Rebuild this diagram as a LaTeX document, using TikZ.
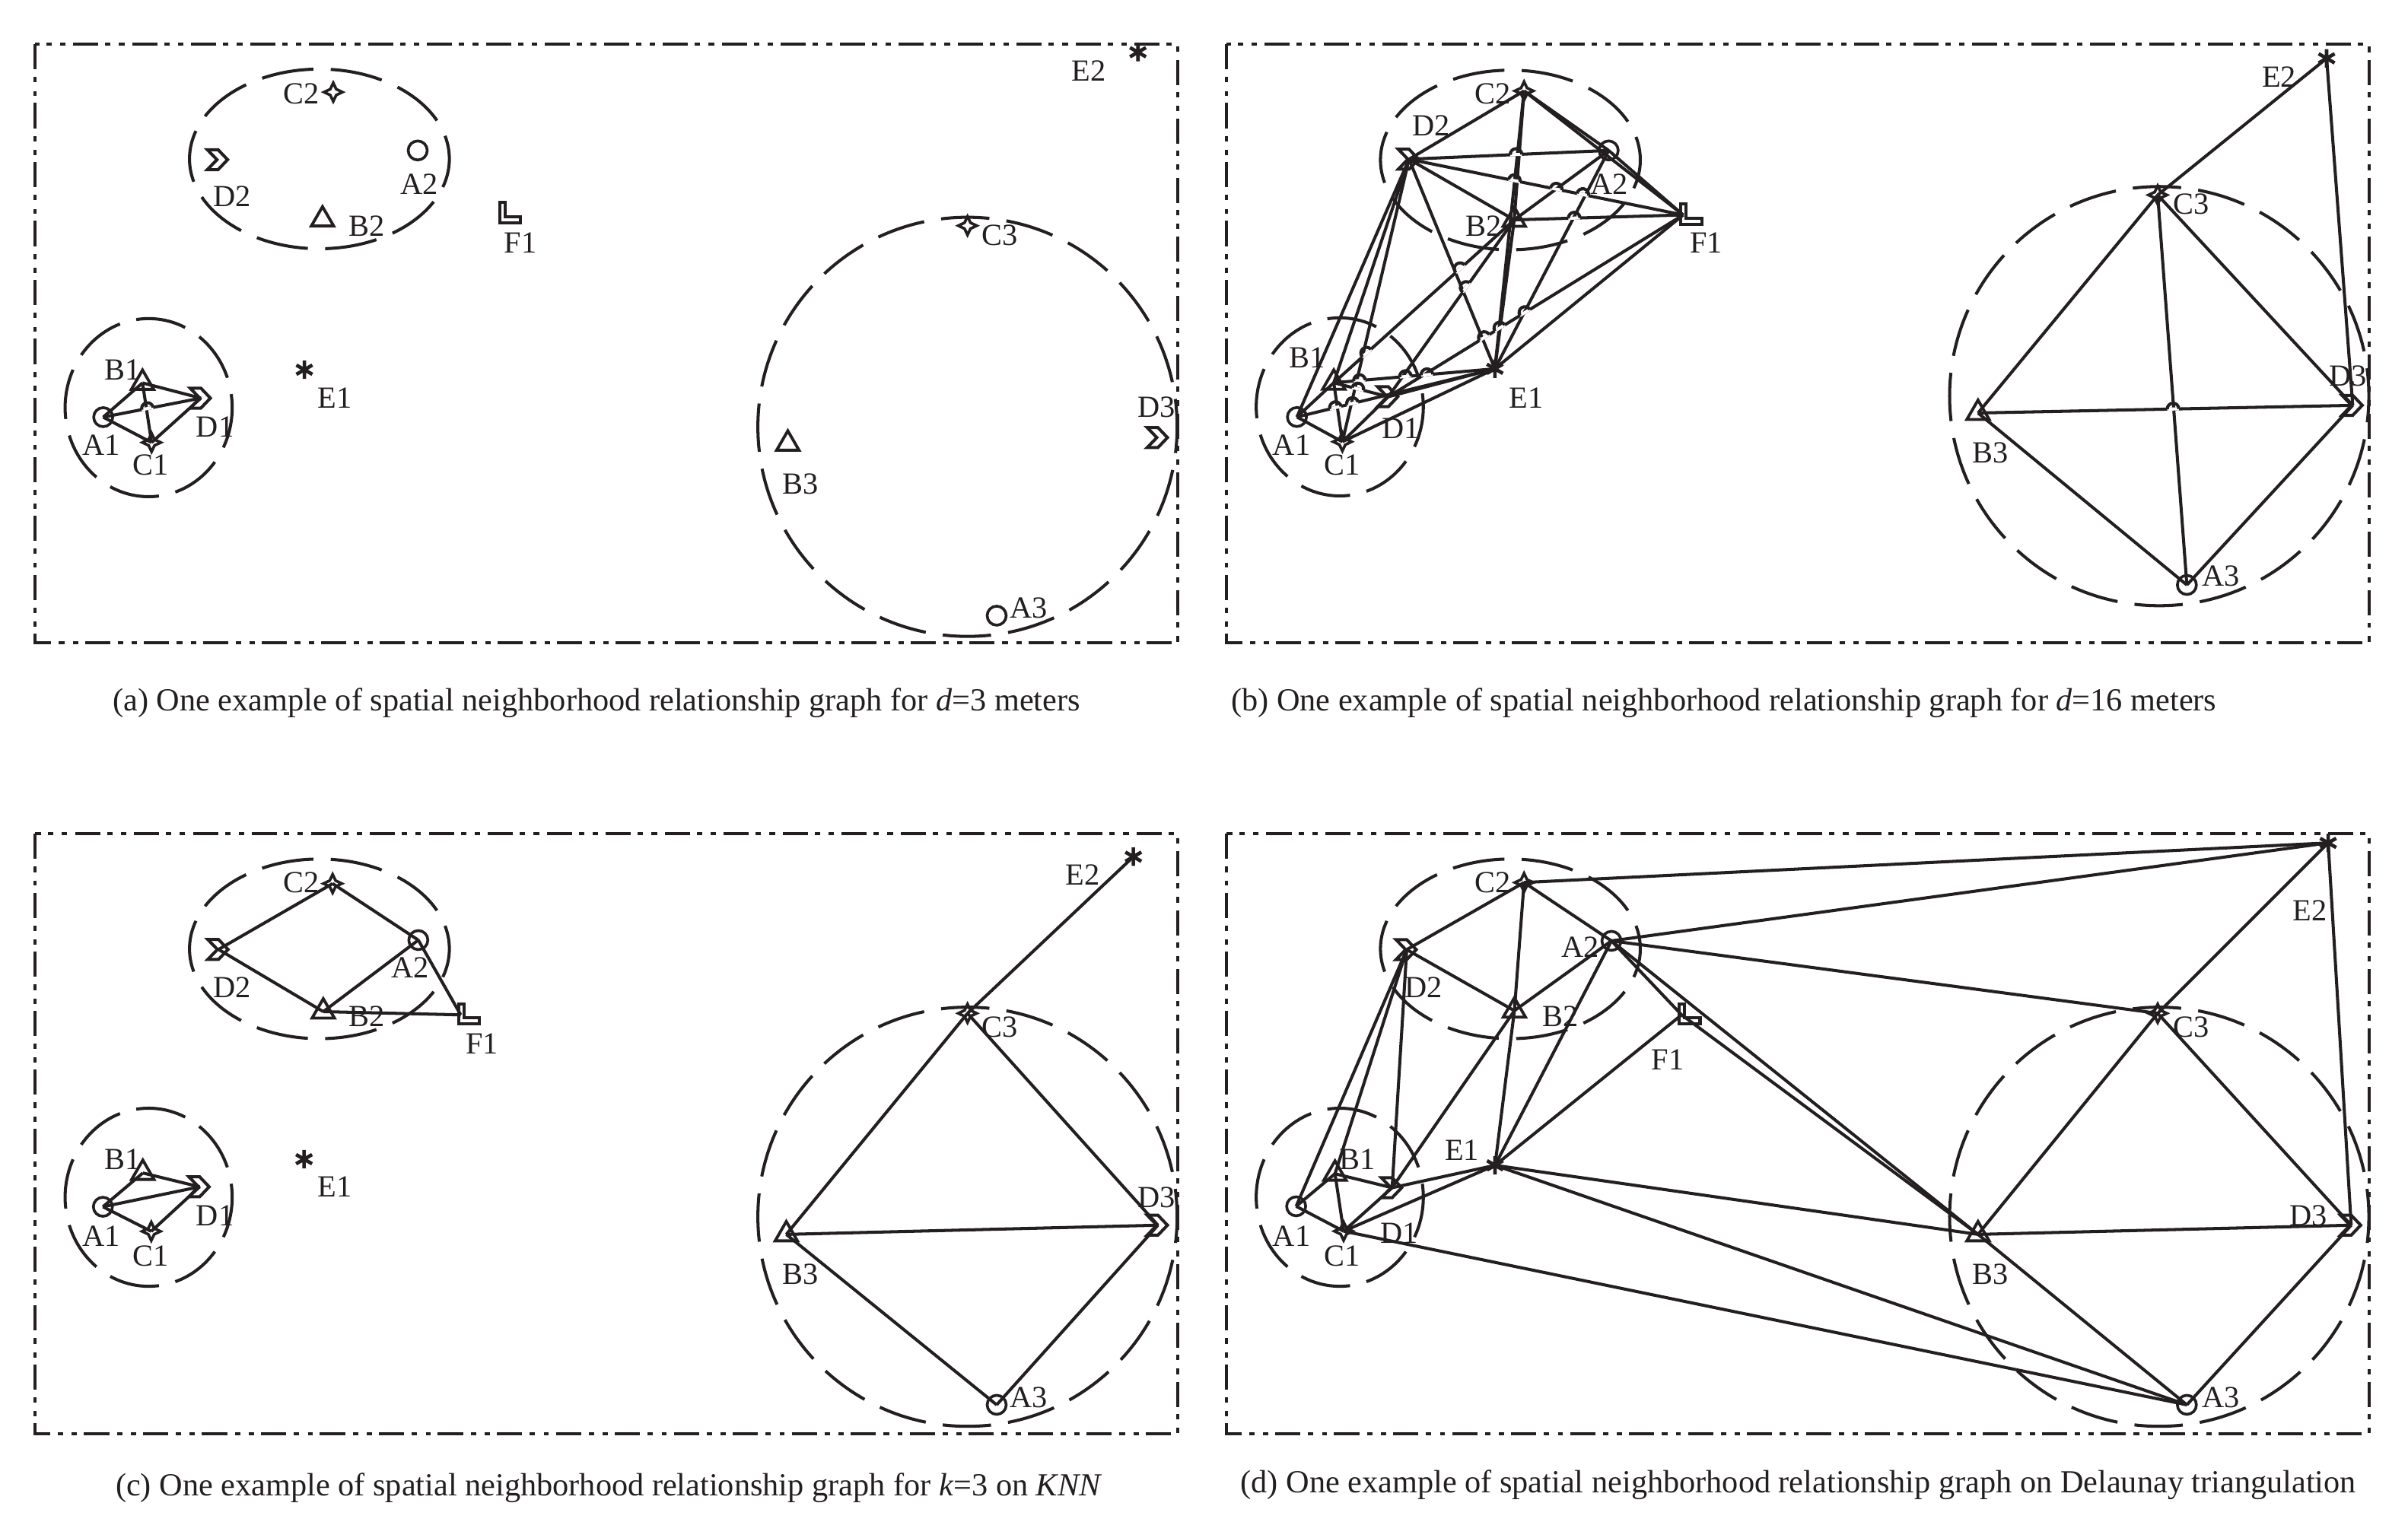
\documentclass[tikz,border=0pt]{standalone}
\usepackage{fontspec}
\setmainfont{Liberation Serif}
\usetikzlibrary{calc,shapes.geometric}
\definecolor{ink}{HTML}{231F20}
\tikzset{
  panel/.style={draw=ink,line width=1pt,dash pattern=on 8.2pt off 2.5pt on 1.8pt off 2.75pt on 1.7pt off 2.25pt},
  ring/.style={draw=ink,line width=1pt,dash pattern=on #1},
  link/.style={draw=ink,line width=1pt},
  mk/.style={draw=ink,line width=1pt,line join=miter},
  pt/.style={inner sep=0pt,minimum size=0pt,outer sep=0pt},
  markA/.style={circle,draw=ink,line width=.9pt,inner sep=0pt,minimum size=6.2pt},
  markB/.style={regular polygon,regular polygon sides=3,draw=ink,line width=.95pt,inner sep=0pt,minimum size=8.4pt},
  markC/.style={star,star points=4,star point ratio=2.2,draw=ink,line width=.9pt,inner sep=0pt,minimum size=6pt},
  lbl/.style={font=\fontsize{10}{12}\selectfont,text=ink,inner sep=0pt},
  capt/.style={font=\fontsize{10.48}{12}\selectfont,text=ink,inner sep=0pt}
}
\newcommand{\markD}[2]{\node[pt] (#1) at (#2) {};
  \draw[mk,shift={(#2)}] (-7,-6.5) -- (0,-6.5) -- (6.2,0) -- (0,6.5) -- (-7,6.5) -- (-.7,0) -- cycle;}
\newcommand{\markE}[2]{\node[pt] (#1) at (#2) {};
  \draw[mk,line width=1.15pt,shift={(#2)}] (0,-6) -- (0,6) (-5.2,-3) -- (5.2,3) (-5.2,3) -- (5.2,-3);}
\newcommand{\markF}[2]{\node[pt] (#1) at (#2) {};
  \draw[mk,shift={(#2)}] (-1.5,-7) -- (2,-7) -- (2,2) -- (12,2) -- (12,6) -- (-1.5,6) -- cycle;}
\newcommand{\jumpat}[3]{
  \draw[link,draw=white] let \p1=($(#2.center)-(#1.center)$), \n1={atan2(\y1,\x1)}, \p2=($(#1.center)!(#3)!(#2.center)$) in
    ($(\p2)+(\n1:1.9pt)$) -- ($(\p2)-(\n1:1.9pt)$);
  \draw[link] let \p1=($(#2.center)-(#1.center)$), \n1={atan2(\y1,\x1)}, \p2=($(#1.center)!(#3)!(#2.center)$) in
    ($(\p2)+(\n1:1.9pt)$) arc[start angle=\n1,delta angle=180,radius=1.9pt];}
\begin{document}
\begin{tikzpicture}[x=.5pt,y=-.5pt]
  \useasboundingbox (0,0) rectangle (1568,991.3);

% panel a
\begin{scope}[name prefix=pa-]
  \draw[panel] (23,28.7) rectangle (767,418.8);
  \draw[ring={16.4pt off 5.5pt},dash phase=3pt] (96.8,265.5) ellipse [x radius=54.4,y radius=58];
  \draw[ring={17pt off 5.65pt},dash phase=7.5pt] (208,103.5) ellipse [x radius=84.6,y radius=58.5];
  \draw[ring={15.75pt off 5.6pt},dash phase=7.2pt] (630,278) circle [radius=136.5];
  \node[markA] (a1) at (67.2,271.7) {};
  \node[markA] (a2) at (272,98) {};
  \node[markA] (a3) at (649,401) {};
  \node[markB] (b1) at (92.8,249.4) {};
  \node[markB] (b2) at (210,143) {};
  \node[markB] (b3) at (513,289) {};
  \node[markC] (c1) at (98.7,288.2) {};
  \node[markC] (c2) at (217,60) {};
  \node[markC] (c3) at (630,147) {};
  \markD{d1}{130.8,259.3}
  \markD{d2}{142,104}
  \markD{d3}{754,285}
  \markE{e1}{198.2,240.8}
  \markE{e2}{741,34}
  \markF{f1}{327,139}
\path[link]
    (a1.center) edge (b1.center)
    (a1.center) edge (c1.center)
    (a1.center) edge (d1.center)
    (b1.center) edge (c1.center)
    (b1.center) edge (d1.center)
    (c1.center) edge (d1.center)
;
  \jumpat{a1}{d1}{95.5,263.5}
  \node[lbl] (ta1) at (66,290) {A1};
  \node[lbl] (tb1) at (80,241) {B1};
  \node[lbl] (tc1) at (98,303) {C1};
  \node[lbl] (td1) at (140,278) {D1};
  \node[lbl] (te1) at (218,259) {E1};
  \node[lbl] (ta2) at (273,120) {A2};
  \node[lbl] (tb2) at (239,147) {B2};
  \node[lbl] (tc2) at (196,61) {C2};
  \node[lbl] (td2) at (151,128) {D2};
  \node[lbl] (te2) at (709,46) {E2};
  \node[lbl] (tf1) at (339,158) {F1};
  \node[lbl] (ta3) at (670,396) {A3};
  \node[lbl] (tb3) at (521,315) {B3};
  \node[lbl] (tc3) at (651,153) {C3};
  \node[lbl] (td3) at (753,265) {D3};
  \node[capt] (cap) at (388.5,458) {(a) One example of spatial neighborhood relationship graph for \textit{d}=3 meters};
\end{scope}

% panel b
\begin{scope}[name prefix=pb-]
  \draw[panel] (798.6,28.7) rectangle (1542.7,418.8);
  \draw[ring={16.4pt off 5.5pt},dash phase=3pt] (872.4,265) ellipse [x radius=54.4,y radius=58];
  \draw[ring={17pt off 5.65pt},dash phase=7.5pt] (983.5,104.2) ellipse [x radius=84.6,y radius=58.5];
  \draw[ring={15.75pt off 5.6pt},dash phase=7.2pt] (1406,258) circle [radius=136.5];
  \node[markA] (a1) at (844.5,271.6) {};
  \node[markA] (a2) at (1047.5,98) {};
  \node[markA] (a3) at (1424,381) {};
  \node[markB] (b1) at (868.5,249.3) {};
  \node[markB] (b2) at (986,143.2) {};
  \node[markB] (b3) at (1288,269) {};
  \node[markC] (c1) at (874.1,287.7) {};
  \node[markC] (c2) at (992.4,59.2) {};
  \node[markC] (c3) at (1405,127) {};
  \markD{d1}{904,258.4}
  \markD{d2}{917.5,103.7}
  \markD{d3}{1532,264}
  \markE{e1}{973.4,240.2}
  \markE{e2}{1515,38}
  \markF{f1}{1096,140}
\path[link]
    (a1.center) edge (b1.center) (a1.center) edge (c1.center)
    (a1.center) edge (e1.center) (a1.center) edge (d2.center)
    (b1.center) edge (c1.center) (b1.center) edge (d1.center)
    (b1.center) edge (e1.center) (b1.center) edge (d2.center)
    (b1.center) edge (b2.center) (c1.center) edge (d1.center)
    (c1.center) edge (e1.center) (c1.center) edge (d2.center)
    (d1.center) edge (e1.center) (d1.center) edge (b2.center)
    (d1.center) edge (f1.center) (e1.center) edge (d2.center)
    (e1.center) edge (b2.center) (e1.center) edge (c2.center)
    (e1.center) edge (a2.center) (e1.center) edge (f1.center)
    (d2.center) edge (c2.center) (d2.center) edge (a2.center)
    (d2.center) edge (b2.center) (d2.center) edge (f1.center)
    (c2.center) edge (a2.center) (c2.center) edge (b2.center)
    (c2.center) edge (f1.center) (a2.center) edge (b2.center)
    (a2.center) edge (f1.center) (b2.center) edge (f1.center)
    (e2.center) edge (c3.center) (e2.center) edge (d3.center)
    (c3.center) edge (b3.center) (c3.center) edge (d3.center)
    (c3.center) edge (a3.center) (b3.center) edge (d3.center)
    (b3.center) edge (a3.center) (a3.center) edge (d3.center)
;
  \jumpat{d2}{a2}{987,97}
  \jumpat{d2}{f1}{987,113}
  \jumpat{d2}{f1}{1014,120}
  \jumpat{d2}{f1}{1031,125}
  \jumpat{b2}{f1}{1025,140}
  \jumpat{b1}{b2}{949,173}
  \jumpat{b1}{b2}{889,229}
  \jumpat{d1}{b2}{953,186}
  \jumpat{d1}{f1}{992,202}
  \jumpat{d1}{f1}{975,211}
  \jumpat{d1}{f1}{966,219}
  \jumpat{b1}{e1}{885,245}
  \jumpat{b1}{e1}{915,243}
  \jumpat{b1}{e1}{929,242}
  \jumpat{b1}{d1}{885,250}
  \jumpat{a1}{e1}{869,263}
  \jumpat{a1}{e1}{880,260}
  \jumpat{b3}{d3}{1415,266}
  \node[lbl] (ta1) at (841,290) {A1};
  \node[lbl] (tb1) at (851,233) {B1};
  \node[lbl] (tc1) at (874,303) {C1};
  \node[lbl] (td1) at (912,279) {D1};
  \node[lbl] (te1) at (994,259) {E1};
  \node[lbl] (ta2) at (1048,120) {A2};
  \node[lbl] (tb2) at (966,147) {B2};
  \node[lbl] (tc2) at (972,61) {C2};
  \node[lbl] (td2) at (932,82) {D2};
  \node[lbl] (te2) at (1484,50) {E2};
  \node[lbl] (tf1) at (1111,158) {F1};
  \node[lbl] (ta3) at (1446,375) {A3};
  \node[lbl] (tb3) at (1296,295) {B3};
  \node[lbl] (tc3) at (1427,133) {C3};
  \node[lbl] (td3) at (1529,245) {D3};
  \node[capt] (cap) at (1122.5,458) {(b) One example of spatial neighborhood relationship graph for \textit{d}=16 meters};
\end{scope}

% panel c
\begin{scope}[name prefix=pc-]
  \draw[panel] (23,543) rectangle (767,933.7);
  \draw[ring={16.4pt off 5.5pt},dash phase=3pt] (96.8,779.8) ellipse [x radius=54.4,y radius=58];
  \draw[ring={17pt off 5.65pt},dash phase=7.5pt] (208,618) ellipse [x radius=84.6,y radius=58.5];
  \draw[ring={15.75pt off 5.6pt},dash phase=7.2pt] (630,792.5) circle [radius=136.5];
  \node[markA] (a1) at (67,786) {};
  \node[markA] (a2) at (272.4,612.3) {};
  \node[markA] (a3) at (649,915) {};
  \node[markB] (b1) at (93,764) {};
  \node[markB] (b2) at (210.5,658.9) {};
  \node[markB] (b3) at (512,804) {};
  \node[markC] (c1) at (98.5,802) {};
  \node[markC] (c2) at (216.6,575.5) {};
  \node[markC] (c3) at (630,660) {};
  \markD{d1}{130,773}
  \markD{d2}{142.3,618.4}
  \markD{d3}{754,798}
  \markE{e1}{198,755}
  \markE{e2}{738,558}
  \markF{f1}{300,661}
\path[link]
    (a1.center) edge (b1.center)
    (a1.center) edge (c1.center)
    (a1.center) edge (d1.center)
    (b1.center) edge (d1.center)
    (c1.center) edge (d1.center)
    (d2.center) edge (c2.center)
    (d2.center) edge (b2.center)
    (c2.center) edge (a2.center)
    (a2.center) edge (b2.center)
    (a2.center) edge (f1.center)
    (b2.center) edge (f1.center)
    (e2.center) edge (c3.center)
    (c3.center) edge (b3.center)
    (c3.center) edge (d3.center)
    (b3.center) edge (d3.center)
    (b3.center) edge (a3.center)
    (a3.center) edge (d3.center)
;
  \node[lbl] (ta1) at (66,805) {A1};
  \node[lbl] (tb1) at (80,755) {B1};
  \node[lbl] (tc1) at (98,818) {C1};
  \node[lbl] (td1) at (140,792) {D1};
  \node[lbl] (te1) at (218,773) {E1};
  \node[lbl] (ta2) at (267,630) {A2};
  \node[lbl] (tb2) at (239,662) {B2};
  \node[lbl] (tc2) at (196,575) {C2};
  \node[lbl] (td2) at (151,643) {D2};
  \node[lbl] (te2) at (705,570) {E2};
  \node[lbl] (tf1) at (314,680) {F1};
  \node[lbl] (ta3) at (670,910) {A3};
  \node[lbl] (tb3) at (521,830) {B3};
  \node[lbl] (tc3) at (651,669) {C3};
  \node[lbl] (td3) at (753,780) {D3};
  \node[capt] (cap) at (396.5,969) {(c) One example of spatial neighborhood relationship graph for \textit{k}=3 on \textit{KNN}};
\end{scope}

% panel d
\begin{scope}[name prefix=pd-]
  \draw[panel] (798.6,543) rectangle (1542.7,933.7);
  \draw[ring={16.4pt off 5.5pt},dash phase=3pt] (872.4,779.8) ellipse [x radius=54.4,y radius=58];
  \draw[ring={17pt off 5.65pt},dash phase=7.5pt] (983.5,618) ellipse [x radius=84.6,y radius=58.5];
  \draw[ring={15.75pt off 5.6pt},dash phase=7.2pt] (1406,792.5) circle [radius=136.5];
  \node[markA] (a1) at (844,785.7) {};
  \node[markA] (a2) at (1049.3,612.8) {};
  \node[markA] (a3) at (1424,915) {};
  \node[markB] (b1) at (869.3,764.5) {};
  \node[markB] (b2) at (986.1,658.3) {};
  \node[markB] (b3) at (1288,804) {};
  \node[markC] (c1) at (874.9,801.9) {};
  \node[markC] (c2) at (992.4,574.8) {};
  \node[markC] (c3) at (1405,660) {};
  \markD{d1}{906.5,773.6}
  \markD{d2}{916,618.5}
  \markD{d3}{1531,798}
  \markE{e1}{973.5,759}
  \markE{e2}{1516,549}
  \markF{f1}{1095,661}
\path[link]
    (a1.center) edge (b1.center) (a1.center) edge (c1.center)
    (a1.center) edge (d2.center) (b1.center) edge (c1.center)
    (b1.center) edge (d1.center) (b1.center) edge (d2.center)
    (c1.center) edge (d1.center) (c1.center) edge (e1.center)
    (c1.center) edge (a3.center) (d1.center) edge (e1.center)
    (d1.center) edge (d2.center) (d1.center) edge (b2.center)
    (e1.center) edge (b2.center) (e1.center) edge (a2.center)
    (e1.center) edge (f1.center) (e1.center) edge (b3.center)
    (e1.center) edge (a3.center) (d2.center) edge (c2.center)
    (d2.center) edge (b2.center) (c2.center) edge (a2.center)
    (c2.center) edge (b2.center) (c2.center) edge (e2.center)
    (a2.center) edge (b2.center) (a2.center) edge (f1.center)
    (a2.center) edge (e2.center) (a2.center) edge (c3.center)
    (a2.center) edge (b3.center) (f1.center) edge (b3.center)
    (e2.center) edge (c3.center) (e2.center) edge (d3.center)
    (c3.center) edge (b3.center) (c3.center) edge (d3.center)
    (b3.center) edge (d3.center) (b3.center) edge (a3.center)
    (a3.center) edge (d3.center)
;
  \node[lbl] (ta1) at (841,805) {A1};
  \node[lbl] (tb1) at (884,755) {B1};
  \node[lbl] (tc1) at (874,818) {C1};
  \node[lbl] (td1) at (911,803) {D1};
  \node[lbl] (te1) at (952,749) {E1};
  \node[lbl] (ta2) at (1029,617) {A2};
  \node[lbl] (tb2) at (1016,662) {B2};
  \node[lbl] (tc2) at (972,575) {C2};
  \node[lbl] (td2) at (927,643) {D2};
  \node[lbl] (te2) at (1504,593) {E2};
  \node[lbl] (tf1) at (1086,690) {F1};
  \node[lbl] (ta3) at (1446,910) {A3};
  \node[lbl] (tb3) at (1296,830) {B3};
  \node[lbl] (tc3) at (1427,669) {C3};
  \node[lbl] (td3) at (1503,792) {D3};
  \node[capt] (cap) at (1171,967) {(d) One example of spatial neighborhood relationship graph on Delaunay triangulation};
\end{scope}
\end{tikzpicture}
\end{document}
